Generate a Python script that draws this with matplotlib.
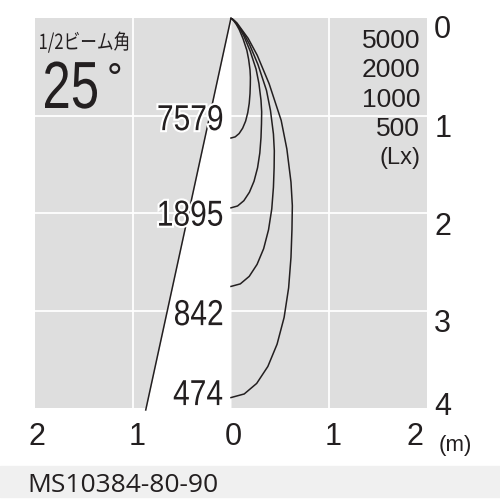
import matplotlib.pyplot as plt
import matplotlib.patheffects as pe
from matplotlib.patches import Rectangle, PathPatch
from matplotlib.textpath import TextPath
from matplotlib.font_manager import FontProperties
from matplotlib.transforms import Affine2D

# iso-lux curves, (offset m, depth m)
lux_levels = [5000, 2000, 1000, 500]
x_5000 = [0, .043, .083, .119, .149, .171, .186, .194, .197, .198, .194, .180, .162, .123, .085, .055, .019, 0]
d_5000 = [1.231, 1.219, 1.185, 1.130, 1.058, .971, .875, .776, .686, .609, .532, .425, .332, .213, .121, .066, .016, 0]
x_2000 = [0, .067, .131, .188, .235, .271, .294, .306, .311, .313, .306, .285, .256, .195, .134, .088, .030, 0]
d_2000 = [1.947, 1.928, 1.874, 1.787, 1.674, 1.536, 1.385, 1.228, 1.086, .963, .842, .672, .525, .337, .191, .104, .025, 0]
x_1000 = [0, .095, .186, .266, .333, .383, .416, .433, .440, .442, .433, .403, .362, .275, .189, .124, .042, 0]
d_1000 = [2.753, 2.727, 2.650, 2.527, 2.366, 2.172, 1.958, 1.736, 1.535, 1.362, 1.190, .950, .742, .477, .271, .148, .036, 0]
x_500 = [0, .135, .262, .376, .470, .542, .588, .612, .622, .626, .612, .570, .512, .389, .268, .175, .060, 0]
d_500 = [3.893, 3.856, 3.748, 3.574, 3.346, 3.071, 2.768, 2.455, 2.171, 1.925, 1.683, 1.344, 1.050, .674, .383, .209, .050, 0]

# centre illuminance at each depth
center_depths = [1, 2, 3, 4]
center_lux = [7579, 1895, 842, 474]

# beam edge (1/2 beam angle 25 deg)
beam_x = [0, -0.87]
beam_d = [0, 4.02]

x_ticks = [-2, -1, 0, 1, 2]
x_tick_labels = ["2", "1", "0", "1", "2"]
depth_ticks = [0, 1, 2, 3, 4]

# label placement
center_label_y = [1.15, 2.13, 3.15, 3.97]
depth_label_y = [0.205, 1.221, 2.226, 3.221, 4.072]
x_label_x = [-1.98, -0.96, 0.02, 1.04, 1.88]
legend_y = [0.308, 0.605, 0.913, 1.21]

ink = "#231f20"
num_font = "Liberation Sans"

fig = plt.figure(figsize=(5, 5), dpi=100)
ax = fig.add_axes([35 / 500, 1 - 408 / 500, 392 / 500, 390 / 500])
ax.set_facecolor("#dedede")
for s in ax.spines.values():
    s.set_visible(False)
ax.set_xticks([])
ax.set_yticks([])
ax.set_xlim(-2, 2)
ax.set_ylim(4, 0)


def squeezed(x, y, s, size, sx, ha="left", family=num_font, halo=False):
    # condensed text: a text path scaled narrower than the font
    tp = TextPath((0, 0), s, size=size, prop=FontProperties(family=family))
    ext = tp.get_extents()
    if ha == "right":
        dx = -ext.x1
    elif ha == "center":
        dx = -(ext.x0 + ext.x1) / 2
    else:
        dx = -ext.x0
    k = fig.dpi / 72
    px, py = ax.transData.transform((x, y))
    tr = Affine2D().translate(dx, 0).scale(sx * k, k).translate(px, py)
    p = PathPatch(tp, transform=tr, facecolor=ink, lw=0, zorder=5)
    if halo:
        p.set_path_effects([pe.withStroke(linewidth=3, foreground="white")])
    fig.add_artist(p)


for x in [-1, 1]:
    ax.axvline(x, color="white", lw=1.3, zorder=1)
for d in [1, 2, 3]:
    ax.axhline(d, color="white", lw=1.3, zorder=1)

# white beam cone + edge
ax.fill_betweenx(beam_d, beam_x, 0, color="white", lw=0, zorder=2)
ax.plot(beam_x, beam_d, color=ink, lw=1.1, zorder=3, clip_on=False)

for xs, ds in [(x_5000, d_5000), (x_2000, d_2000), (x_1000, d_1000), (x_500, d_500)]:
    ax.plot(xs, ds, color=ink, lw=1.1, zorder=4, solid_joinstyle="round")

for lux, y in zip(center_lux, center_label_y):
    squeezed(-0.09, y, str(lux), 26, 0.83, ha="right", halo=True)

for lux, y in zip(lux_levels, legend_y):
    ax.text(1.93, y, str(lux), ha="right", va="baseline", fontsize=19,
            family=num_font, color=ink, zorder=5)
ax.text(1.93, 1.50, "(Lx)", ha="right", va="baseline", fontsize=17,
        family=num_font, color=ink, zorder=5)

for d, y in zip(depth_ticks, depth_label_y):
    ax.text(2.16, y, str(d), ha="center", va="baseline", fontsize=22,
            family=num_font, color=ink, clip_on=False)

for lab, x in zip(x_tick_labels, x_label_x):
    ax.text(x, 4.38, lab, ha="center", va="baseline", fontsize=22,
            family=num_font, color=ink, clip_on=False)
ax.text(2.286, 4.44, "(m)", ha="center", va="baseline", fontsize=16,
        family=num_font, color=ink, clip_on=False)

squeezed(-1.949, 0.318, "1/2ビーム角", 15, 0.8, family="Noto Sans CJK JP")
squeezed(-1.898, 0.923, "25", 48, 0.765)
ax.text(-1.27, 0.738, "°", ha="left", va="baseline", fontsize=28,
        family=num_font, color=ink, zorder=5)

fig.patches.append(Rectangle((0, 0.006), 1, 0.062, transform=fig.transFigure,
                             color="#f0f0f0", zorder=0))
fig.text(0.054, 0.016, "MS10384-80-90", ha="left", va="baseline", fontsize=19,
         family="Open Sans", color=ink)

fig.savefig("out.png", dpi=100)
